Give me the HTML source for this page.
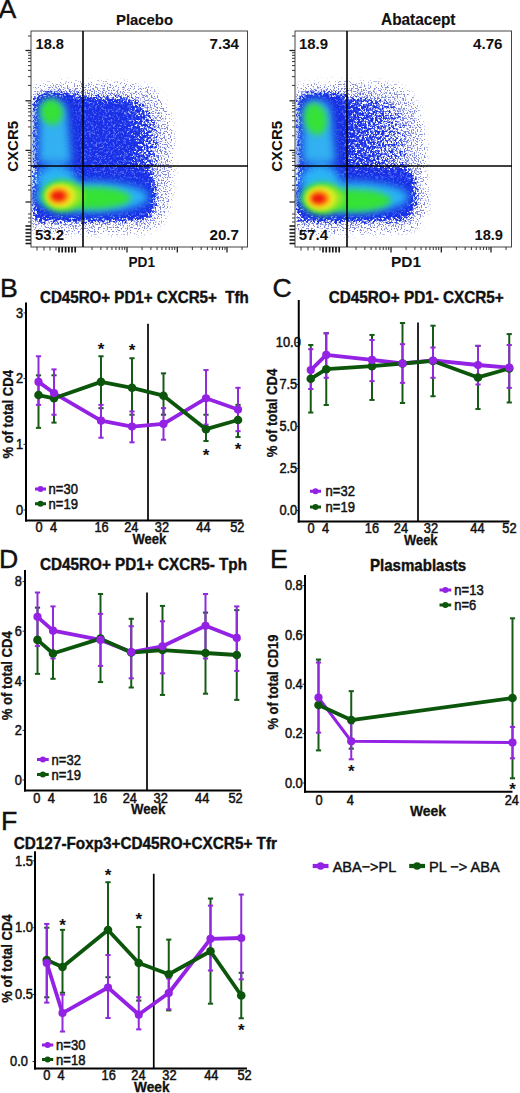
<!DOCTYPE html><html><head><meta charset="utf-8"><style>html,body{margin:0;padding:0;background:#fff;}svg{display:block}</style></head><body>
<svg width="520" height="1093" viewBox="0 0 520 1093" font-family="Liberation Sans, sans-serif">
<rect width="520" height="1093" fill="#fff"/>
<defs>
<filter id="bl2" x="-30%" y="-30%" width="160%" height="160%"><feGaussianBlur stdDeviation="2"/></filter>
<filter id="bl3" x="-30%" y="-30%" width="160%" height="160%"><feGaussianBlur stdDeviation="3"/></filter>
<filter id="bl4" x="-30%" y="-30%" width="160%" height="160%"><feGaussianBlur stdDeviation="4"/></filter>
<filter id="spk" x="0" y="0" width="520" height="300" filterUnits="userSpaceOnUse" color-interpolation-filters="sRGB">
 <feGaussianBlur in="SourceAlpha" stdDeviation="3.5" result="b"/>
 <feTurbulence type="fractalNoise" baseFrequency="0.45" numOctaves="2" seed="7" result="n"/>
 <feColorMatrix in="n" type="matrix" values="0 0 0 0 0  0 0 0 0 0  0 0 0 0 0  3 0 0 0 -1" result="na"/>
 <feComposite in="b" in2="na" operator="arithmetic" k1="0" k2="1.3" k3="1" k4="-1.05" result="s"/>
 <feComponentTransfer in="s" result="t"><feFuncA type="linear" slope="3" intercept="0"/></feComponentTransfer>
 <feFlood flood-color="#1a30e6"/>
 <feComposite in2="t" operator="in" result="A"/>
 <feTurbulence type="fractalNoise" baseFrequency="0.38" numOctaves="2" seed="21" result="n2"/>
 <feColorMatrix in="n2" type="matrix" values="0 0 0 0 0  0 0 0 0 0  0 0 0 0 0  0 4 0 0 -2.1" result="m2"/>
 <feFlood flood-color="#4a6cff"/>
 <feComposite in2="m2" operator="in"/>
 <feComposite in2="t" operator="in" result="B"/>
 <feMerge><feMergeNode in="A"/><feMergeNode in="B"/></feMerge>
</filter>
<filter id="spk2" x="0" y="0" width="520" height="300" filterUnits="userSpaceOnUse" color-interpolation-filters="sRGB">
 <feGaussianBlur in="SourceAlpha" stdDeviation="5" result="b"/>
 <feTurbulence type="fractalNoise" baseFrequency="0.7" numOctaves="1" seed="3" result="n"/>
 <feColorMatrix in="n" type="matrix" values="0 0 0 0 0  0 0 0 0 0  0 0 0 0 0  3 0 0 0 -1" result="na"/>
 <feComposite in="b" in2="na" operator="arithmetic" k1="0" k2="0.5" k3="1" k4="-1.02" result="s"/>
 <feComponentTransfer in="s" result="t"><feFuncA type="linear" slope="4" intercept="0"/></feComponentTransfer>
 <feFlood flood-color="#8088d8"/>
 <feComposite in2="t" operator="in"/>
</filter>
<linearGradient id="urL" x1="0" x2="1" y1="0" y2="0"><stop offset="0" stop-color="#000" stop-opacity="1"/><stop offset="0.6" stop-color="#000" stop-opacity="0.95"/><stop offset="1" stop-color="#000" stop-opacity="0.42"/></linearGradient>
<linearGradient id="urR" x1="0" x2="1" y1="0" y2="0"><stop offset="0" stop-color="#000" stop-opacity="0.8"/><stop offset="0.5" stop-color="#000" stop-opacity="0.55"/><stop offset="1" stop-color="#000" stop-opacity="0.25"/></linearGradient>
</defs>
<clipPath id="clip31"><rect x="31.5" y="31.5" width="216" height="215.5"/></clipPath>
<g clip-path="url(#clip31)">
<g filter="url(#spk2)" fill="#000"><path d="M30,88 C40,82 120,80 150,88 C168,96 176,140 172,170 C172,205 168,228 140,232 L30,234 Z"/></g>
<g filter="url(#spk)" fill="#000"><path d="M34,98 C40,92 70,91 84,96 L84,170 L36,170 Z"/><path d="M83,97 L118,97 C140,98 156,112 158,135 L158,168 L83,168 Z" fill="url(#urL)"/><path d="M34,168 L148,168 C158,175 159,210 148,219 C120,222 60,222 34,221 Z"/></g>
<g filter="url(#bl3)" fill="#1024d8" fill-opacity="0.7"><path d="M36,108 C36,90 70,90 74,108 L80,168 L34,168 Z"/><ellipse cx="90.0" cy="197" rx="62.0" ry="20"/></g>
<g filter="url(#bl4)" fill="#2ab4f6"><path d="M39,110 C39,96 65,96 67,110 L72,163 L38,163 Z" fill="#30b0f2"/><ellipse cx="92.0" cy="197" rx="57.0" ry="15.5"/><ellipse cx="56" cy="180" rx="20" ry="15"/></g>
<g filter="url(#bl3)" fill="#34e234"><ellipse cx="51.5" cy="112" rx="11" ry="13" transform="rotate(-12 51.5 112)"/><ellipse cx="90.0" cy="198" rx="41.0" ry="11"/><ellipse cx="62.0" cy="196" rx="21" ry="16"/></g>
<g filter="url(#bl3)"><ellipse cx="65.3" cy="196" rx="18" ry="12" fill="#9ee826"/></g>
<g filter="url(#bl2)"><ellipse cx="60.0" cy="196" rx="15" ry="12" fill="#e6ee22"/><ellipse cx="59.0" cy="196" rx="11" ry="8.5" fill="#ff9410"/><ellipse cx="58.3" cy="196" rx="8" ry="6" fill="#f01c10"/></g>
</g>
<rect x="31" y="31" width="216.5" height="216" fill="none" stroke="#444" stroke-width="1"/>
<line x1="83.00" y1="31.00" x2="83.00" y2="247.00" stroke="#000" stroke-width="1.6" />
<line x1="31.00" y1="166.00" x2="248.00" y2="166.00" stroke="#000" stroke-width="1.6" />
<line x1="25.50" y1="50.50" x2="31.00" y2="50.50" stroke="#222" stroke-width="1.3" />
<line x1="25.50" y1="100.80" x2="31.00" y2="100.80" stroke="#222" stroke-width="1.3" />
<line x1="25.50" y1="150.40" x2="31.00" y2="150.40" stroke="#222" stroke-width="1.3" />
<line x1="25.50" y1="202.00" x2="31.00" y2="202.00" stroke="#222" stroke-width="1.3" />
<line x1="28.00" y1="85.45" x2="31.00" y2="85.45" stroke="#222" stroke-width="0.9" />
<line x1="28.00" y1="76.64" x2="31.00" y2="76.64" stroke="#222" stroke-width="0.9" />
<line x1="28.00" y1="70.40" x2="31.00" y2="70.40" stroke="#222" stroke-width="0.9" />
<line x1="28.00" y1="65.55" x2="31.00" y2="65.55" stroke="#222" stroke-width="0.9" />
<line x1="28.00" y1="61.59" x2="31.00" y2="61.59" stroke="#222" stroke-width="0.9" />
<line x1="28.00" y1="58.25" x2="31.00" y2="58.25" stroke="#222" stroke-width="0.9" />
<line x1="28.00" y1="55.35" x2="31.00" y2="55.35" stroke="#222" stroke-width="0.9" />
<line x1="28.00" y1="52.79" x2="31.00" y2="52.79" stroke="#222" stroke-width="0.9" />
<line x1="28.00" y1="135.75" x2="31.00" y2="135.75" stroke="#222" stroke-width="0.9" />
<line x1="28.00" y1="126.94" x2="31.00" y2="126.94" stroke="#222" stroke-width="0.9" />
<line x1="28.00" y1="120.70" x2="31.00" y2="120.70" stroke="#222" stroke-width="0.9" />
<line x1="28.00" y1="115.85" x2="31.00" y2="115.85" stroke="#222" stroke-width="0.9" />
<line x1="28.00" y1="111.89" x2="31.00" y2="111.89" stroke="#222" stroke-width="0.9" />
<line x1="28.00" y1="108.55" x2="31.00" y2="108.55" stroke="#222" stroke-width="0.9" />
<line x1="28.00" y1="105.65" x2="31.00" y2="105.65" stroke="#222" stroke-width="0.9" />
<line x1="28.00" y1="103.09" x2="31.00" y2="103.09" stroke="#222" stroke-width="0.9" />
<line x1="28.00" y1="185.35" x2="31.00" y2="185.35" stroke="#222" stroke-width="0.9" />
<line x1="28.00" y1="176.54" x2="31.00" y2="176.54" stroke="#222" stroke-width="0.9" />
<line x1="28.00" y1="170.30" x2="31.00" y2="170.30" stroke="#222" stroke-width="0.9" />
<line x1="28.00" y1="165.45" x2="31.00" y2="165.45" stroke="#222" stroke-width="0.9" />
<line x1="28.00" y1="161.49" x2="31.00" y2="161.49" stroke="#222" stroke-width="0.9" />
<line x1="28.00" y1="158.15" x2="31.00" y2="158.15" stroke="#222" stroke-width="0.9" />
<line x1="28.00" y1="155.25" x2="31.00" y2="155.25" stroke="#222" stroke-width="0.9" />
<line x1="28.00" y1="152.69" x2="31.00" y2="152.69" stroke="#222" stroke-width="0.9" />
<line x1="28.00" y1="190.00" x2="31.00" y2="190.00" stroke="#222" stroke-width="0.9" />
<line x1="28.00" y1="214.00" x2="31.00" y2="214.00" stroke="#222" stroke-width="0.9" />
<line x1="28.00" y1="218.00" x2="31.00" y2="218.00" stroke="#222" stroke-width="0.9" />
<line x1="28.00" y1="222.00" x2="31.00" y2="222.00" stroke="#222" stroke-width="0.9" />
<line x1="25.50" y1="226.00" x2="31.00" y2="226.00" stroke="#1a1a1a" stroke-width="1.6" />
<line x1="25.50" y1="229.50" x2="31.00" y2="229.50" stroke="#1a1a1a" stroke-width="1.6" />
<line x1="25.50" y1="233.00" x2="31.00" y2="233.00" stroke="#1a1a1a" stroke-width="1.6" />
<line x1="25.50" y1="236.50" x2="31.00" y2="236.50" stroke="#1a1a1a" stroke-width="1.6" />
<line x1="25.50" y1="240.00" x2="31.00" y2="240.00" stroke="#1a1a1a" stroke-width="1.6" />
<line x1="25.50" y1="243.50" x2="31.00" y2="243.50" stroke="#1a1a1a" stroke-width="1.6" />
<line x1="28.00" y1="36.00" x2="31.00" y2="36.00" stroke="#222" stroke-width="0.9" />
<line x1="127.00" y1="247.00" x2="127.00" y2="252.50" stroke="#222" stroke-width="1.3" />
<line x1="177.30" y1="247.00" x2="177.30" y2="252.50" stroke="#222" stroke-width="1.3" />
<line x1="227.00" y1="247.00" x2="227.00" y2="252.50" stroke="#222" stroke-width="1.3" />
<line x1="92.05" y1="247.00" x2="92.05" y2="250.00" stroke="#222" stroke-width="0.9" />
<line x1="100.86" y1="247.00" x2="100.86" y2="250.00" stroke="#222" stroke-width="0.9" />
<line x1="107.10" y1="247.00" x2="107.10" y2="250.00" stroke="#222" stroke-width="0.9" />
<line x1="111.95" y1="247.00" x2="111.95" y2="250.00" stroke="#222" stroke-width="0.9" />
<line x1="115.91" y1="247.00" x2="115.91" y2="250.00" stroke="#222" stroke-width="0.9" />
<line x1="119.25" y1="247.00" x2="119.25" y2="250.00" stroke="#222" stroke-width="0.9" />
<line x1="122.15" y1="247.00" x2="122.15" y2="250.00" stroke="#222" stroke-width="0.9" />
<line x1="124.71" y1="247.00" x2="124.71" y2="250.00" stroke="#222" stroke-width="0.9" />
<line x1="142.05" y1="247.00" x2="142.05" y2="250.00" stroke="#222" stroke-width="0.9" />
<line x1="150.86" y1="247.00" x2="150.86" y2="250.00" stroke="#222" stroke-width="0.9" />
<line x1="157.10" y1="247.00" x2="157.10" y2="250.00" stroke="#222" stroke-width="0.9" />
<line x1="161.95" y1="247.00" x2="161.95" y2="250.00" stroke="#222" stroke-width="0.9" />
<line x1="165.91" y1="247.00" x2="165.91" y2="250.00" stroke="#222" stroke-width="0.9" />
<line x1="169.25" y1="247.00" x2="169.25" y2="250.00" stroke="#222" stroke-width="0.9" />
<line x1="172.15" y1="247.00" x2="172.15" y2="250.00" stroke="#222" stroke-width="0.9" />
<line x1="174.71" y1="247.00" x2="174.71" y2="250.00" stroke="#222" stroke-width="0.9" />
<line x1="192.35" y1="247.00" x2="192.35" y2="250.00" stroke="#222" stroke-width="0.9" />
<line x1="201.16" y1="247.00" x2="201.16" y2="250.00" stroke="#222" stroke-width="0.9" />
<line x1="207.40" y1="247.00" x2="207.40" y2="250.00" stroke="#222" stroke-width="0.9" />
<line x1="212.25" y1="247.00" x2="212.25" y2="250.00" stroke="#222" stroke-width="0.9" />
<line x1="216.21" y1="247.00" x2="216.21" y2="250.00" stroke="#222" stroke-width="0.9" />
<line x1="219.55" y1="247.00" x2="219.55" y2="250.00" stroke="#222" stroke-width="0.9" />
<line x1="222.45" y1="247.00" x2="222.45" y2="250.00" stroke="#222" stroke-width="0.9" />
<line x1="225.01" y1="247.00" x2="225.01" y2="250.00" stroke="#222" stroke-width="0.9" />
<line x1="242.05" y1="247.00" x2="242.05" y2="250.00" stroke="#222" stroke-width="0.9" />
<line x1="37.00" y1="247.00" x2="37.00" y2="250.50" stroke="#222" stroke-width="0.9" />
<line x1="44.00" y1="247.00" x2="44.00" y2="250.50" stroke="#222" stroke-width="0.9" />
<line x1="50.00" y1="247.00" x2="50.00" y2="250.50" stroke="#222" stroke-width="0.9" />
<line x1="56.00" y1="247.00" x2="56.00" y2="250.50" stroke="#222" stroke-width="0.9" />
<line x1="59.00" y1="247.00" x2="59.00" y2="252.50" stroke="#1a1a1a" stroke-width="1.7" />
<line x1="62.20" y1="247.00" x2="62.20" y2="252.50" stroke="#1a1a1a" stroke-width="1.7" />
<line x1="65.60" y1="247.00" x2="65.60" y2="252.50" stroke="#1a1a1a" stroke-width="1.7" />
<line x1="68.80" y1="247.00" x2="68.80" y2="252.50" stroke="#1a1a1a" stroke-width="1.7" />
<line x1="72.00" y1="247.00" x2="72.00" y2="252.50" stroke="#1a1a1a" stroke-width="1.7" />
<line x1="75.20" y1="247.00" x2="75.20" y2="252.50" stroke="#1a1a1a" stroke-width="1.7" />
<clipPath id="clip295"><rect x="295.5" y="31.5" width="216" height="215.5"/></clipPath>
<g clip-path="url(#clip295)">
<g filter="url(#spk2)" fill="#000"><path d="M294,88 C304,82 384,80 402,88 C420,96 428,140 424,170 C432,205 428,228 404,232 L294,234 Z"/></g>
<g filter="url(#spk)" fill="#000"><path d="M298,98 C304,92 334,91 348,96 L348,170 L300,170 Z"/><path d="M347,97 L370,97 C392,98 408,112 410,135 L410,168 L347,168 Z" fill="url(#urR)"/><path d="M298,168 L408,168 C418,175 419,210 408,219 C384,222 324,222 298,221 Z"/></g>
<g filter="url(#bl3)" fill="#1024d8" fill-opacity="0.7"><path d="M300,108 C300,90 334,90 338,108 L344,168 L298,168 Z"/><ellipse cx="352.0" cy="197" rx="60.0" ry="20"/></g>
<g filter="url(#bl4)" fill="#2ab4f6"><path d="M303,110 C303,96 329,96 331,110 L336,163 L302,163 Z" fill="#30b0f2"/><ellipse cx="354.0" cy="197" rx="55.0" ry="15.5"/><ellipse cx="320" cy="180" rx="20" ry="15"/></g>
<g filter="url(#bl3)" fill="#34e234"><ellipse cx="315.5" cy="119" rx="11" ry="16" transform="rotate(-12 315.5 119)"/><ellipse cx="352.0" cy="200.5" rx="39.0" ry="11"/><ellipse cx="322.2" cy="198.5" rx="21" ry="16"/></g>
<g filter="url(#bl3)"><ellipse cx="325.5" cy="198.5" rx="18" ry="12" fill="#9ee826"/></g>
<g filter="url(#bl2)"><ellipse cx="320.2" cy="198.5" rx="15" ry="12" fill="#e6ee22"/><ellipse cx="319.2" cy="198.5" rx="11" ry="8.5" fill="#ff9410"/><ellipse cx="318.5" cy="198.5" rx="8" ry="6" fill="#f01c10"/></g>
</g>
<rect x="295" y="31" width="216.5" height="216" fill="none" stroke="#444" stroke-width="1"/>
<line x1="347.00" y1="31.00" x2="347.00" y2="247.00" stroke="#000" stroke-width="1.6" />
<line x1="295.00" y1="166.00" x2="512.00" y2="166.00" stroke="#000" stroke-width="1.6" />
<line x1="289.50" y1="50.50" x2="295.00" y2="50.50" stroke="#222" stroke-width="1.3" />
<line x1="289.50" y1="100.80" x2="295.00" y2="100.80" stroke="#222" stroke-width="1.3" />
<line x1="289.50" y1="150.40" x2="295.00" y2="150.40" stroke="#222" stroke-width="1.3" />
<line x1="289.50" y1="202.00" x2="295.00" y2="202.00" stroke="#222" stroke-width="1.3" />
<line x1="292.00" y1="85.45" x2="295.00" y2="85.45" stroke="#222" stroke-width="0.9" />
<line x1="292.00" y1="76.64" x2="295.00" y2="76.64" stroke="#222" stroke-width="0.9" />
<line x1="292.00" y1="70.40" x2="295.00" y2="70.40" stroke="#222" stroke-width="0.9" />
<line x1="292.00" y1="65.55" x2="295.00" y2="65.55" stroke="#222" stroke-width="0.9" />
<line x1="292.00" y1="61.59" x2="295.00" y2="61.59" stroke="#222" stroke-width="0.9" />
<line x1="292.00" y1="58.25" x2="295.00" y2="58.25" stroke="#222" stroke-width="0.9" />
<line x1="292.00" y1="55.35" x2="295.00" y2="55.35" stroke="#222" stroke-width="0.9" />
<line x1="292.00" y1="52.79" x2="295.00" y2="52.79" stroke="#222" stroke-width="0.9" />
<line x1="292.00" y1="135.75" x2="295.00" y2="135.75" stroke="#222" stroke-width="0.9" />
<line x1="292.00" y1="126.94" x2="295.00" y2="126.94" stroke="#222" stroke-width="0.9" />
<line x1="292.00" y1="120.70" x2="295.00" y2="120.70" stroke="#222" stroke-width="0.9" />
<line x1="292.00" y1="115.85" x2="295.00" y2="115.85" stroke="#222" stroke-width="0.9" />
<line x1="292.00" y1="111.89" x2="295.00" y2="111.89" stroke="#222" stroke-width="0.9" />
<line x1="292.00" y1="108.55" x2="295.00" y2="108.55" stroke="#222" stroke-width="0.9" />
<line x1="292.00" y1="105.65" x2="295.00" y2="105.65" stroke="#222" stroke-width="0.9" />
<line x1="292.00" y1="103.09" x2="295.00" y2="103.09" stroke="#222" stroke-width="0.9" />
<line x1="292.00" y1="185.35" x2="295.00" y2="185.35" stroke="#222" stroke-width="0.9" />
<line x1="292.00" y1="176.54" x2="295.00" y2="176.54" stroke="#222" stroke-width="0.9" />
<line x1="292.00" y1="170.30" x2="295.00" y2="170.30" stroke="#222" stroke-width="0.9" />
<line x1="292.00" y1="165.45" x2="295.00" y2="165.45" stroke="#222" stroke-width="0.9" />
<line x1="292.00" y1="161.49" x2="295.00" y2="161.49" stroke="#222" stroke-width="0.9" />
<line x1="292.00" y1="158.15" x2="295.00" y2="158.15" stroke="#222" stroke-width="0.9" />
<line x1="292.00" y1="155.25" x2="295.00" y2="155.25" stroke="#222" stroke-width="0.9" />
<line x1="292.00" y1="152.69" x2="295.00" y2="152.69" stroke="#222" stroke-width="0.9" />
<line x1="292.00" y1="190.00" x2="295.00" y2="190.00" stroke="#222" stroke-width="0.9" />
<line x1="292.00" y1="214.00" x2="295.00" y2="214.00" stroke="#222" stroke-width="0.9" />
<line x1="292.00" y1="218.00" x2="295.00" y2="218.00" stroke="#222" stroke-width="0.9" />
<line x1="292.00" y1="222.00" x2="295.00" y2="222.00" stroke="#222" stroke-width="0.9" />
<line x1="289.50" y1="226.00" x2="295.00" y2="226.00" stroke="#1a1a1a" stroke-width="1.6" />
<line x1="289.50" y1="229.50" x2="295.00" y2="229.50" stroke="#1a1a1a" stroke-width="1.6" />
<line x1="289.50" y1="233.00" x2="295.00" y2="233.00" stroke="#1a1a1a" stroke-width="1.6" />
<line x1="289.50" y1="236.50" x2="295.00" y2="236.50" stroke="#1a1a1a" stroke-width="1.6" />
<line x1="289.50" y1="240.00" x2="295.00" y2="240.00" stroke="#1a1a1a" stroke-width="1.6" />
<line x1="289.50" y1="243.50" x2="295.00" y2="243.50" stroke="#1a1a1a" stroke-width="1.6" />
<line x1="292.00" y1="36.00" x2="295.00" y2="36.00" stroke="#222" stroke-width="0.9" />
<line x1="391.00" y1="247.00" x2="391.00" y2="252.50" stroke="#222" stroke-width="1.3" />
<line x1="441.30" y1="247.00" x2="441.30" y2="252.50" stroke="#222" stroke-width="1.3" />
<line x1="491.00" y1="247.00" x2="491.00" y2="252.50" stroke="#222" stroke-width="1.3" />
<line x1="356.05" y1="247.00" x2="356.05" y2="250.00" stroke="#222" stroke-width="0.9" />
<line x1="364.86" y1="247.00" x2="364.86" y2="250.00" stroke="#222" stroke-width="0.9" />
<line x1="371.10" y1="247.00" x2="371.10" y2="250.00" stroke="#222" stroke-width="0.9" />
<line x1="375.95" y1="247.00" x2="375.95" y2="250.00" stroke="#222" stroke-width="0.9" />
<line x1="379.91" y1="247.00" x2="379.91" y2="250.00" stroke="#222" stroke-width="0.9" />
<line x1="383.25" y1="247.00" x2="383.25" y2="250.00" stroke="#222" stroke-width="0.9" />
<line x1="386.15" y1="247.00" x2="386.15" y2="250.00" stroke="#222" stroke-width="0.9" />
<line x1="388.71" y1="247.00" x2="388.71" y2="250.00" stroke="#222" stroke-width="0.9" />
<line x1="406.05" y1="247.00" x2="406.05" y2="250.00" stroke="#222" stroke-width="0.9" />
<line x1="414.86" y1="247.00" x2="414.86" y2="250.00" stroke="#222" stroke-width="0.9" />
<line x1="421.10" y1="247.00" x2="421.10" y2="250.00" stroke="#222" stroke-width="0.9" />
<line x1="425.95" y1="247.00" x2="425.95" y2="250.00" stroke="#222" stroke-width="0.9" />
<line x1="429.91" y1="247.00" x2="429.91" y2="250.00" stroke="#222" stroke-width="0.9" />
<line x1="433.25" y1="247.00" x2="433.25" y2="250.00" stroke="#222" stroke-width="0.9" />
<line x1="436.15" y1="247.00" x2="436.15" y2="250.00" stroke="#222" stroke-width="0.9" />
<line x1="438.71" y1="247.00" x2="438.71" y2="250.00" stroke="#222" stroke-width="0.9" />
<line x1="456.35" y1="247.00" x2="456.35" y2="250.00" stroke="#222" stroke-width="0.9" />
<line x1="465.16" y1="247.00" x2="465.16" y2="250.00" stroke="#222" stroke-width="0.9" />
<line x1="471.40" y1="247.00" x2="471.40" y2="250.00" stroke="#222" stroke-width="0.9" />
<line x1="476.25" y1="247.00" x2="476.25" y2="250.00" stroke="#222" stroke-width="0.9" />
<line x1="480.21" y1="247.00" x2="480.21" y2="250.00" stroke="#222" stroke-width="0.9" />
<line x1="483.55" y1="247.00" x2="483.55" y2="250.00" stroke="#222" stroke-width="0.9" />
<line x1="486.45" y1="247.00" x2="486.45" y2="250.00" stroke="#222" stroke-width="0.9" />
<line x1="489.01" y1="247.00" x2="489.01" y2="250.00" stroke="#222" stroke-width="0.9" />
<line x1="506.05" y1="247.00" x2="506.05" y2="250.00" stroke="#222" stroke-width="0.9" />
<line x1="301.00" y1="247.00" x2="301.00" y2="250.50" stroke="#222" stroke-width="0.9" />
<line x1="308.00" y1="247.00" x2="308.00" y2="250.50" stroke="#222" stroke-width="0.9" />
<line x1="314.00" y1="247.00" x2="314.00" y2="250.50" stroke="#222" stroke-width="0.9" />
<line x1="320.00" y1="247.00" x2="320.00" y2="250.50" stroke="#222" stroke-width="0.9" />
<line x1="323.00" y1="247.00" x2="323.00" y2="252.50" stroke="#1a1a1a" stroke-width="1.7" />
<line x1="326.20" y1="247.00" x2="326.20" y2="252.50" stroke="#1a1a1a" stroke-width="1.7" />
<line x1="329.60" y1="247.00" x2="329.60" y2="252.50" stroke="#1a1a1a" stroke-width="1.7" />
<line x1="332.80" y1="247.00" x2="332.80" y2="252.50" stroke="#1a1a1a" stroke-width="1.7" />
<line x1="336.00" y1="247.00" x2="336.00" y2="252.50" stroke="#1a1a1a" stroke-width="1.7" />
<line x1="339.20" y1="247.00" x2="339.20" y2="252.50" stroke="#1a1a1a" stroke-width="1.7" />
<text x="-1.50" y="18.25" font-size="26.7" font-weight="normal" text-anchor="start" fill="#111" stroke="#111" stroke-width="0.4" >A</text>
<text x="116.00" y="25.00" font-size="15.40" font-weight="bold" text-anchor="start" fill="#111" stroke="#111" stroke-width="0.15" textLength="57.00" lengthAdjust="spacingAndGlyphs" >Placebo</text>
<text x="381.00" y="25.00" font-size="15.60" font-weight="bold" text-anchor="start" fill="#111" stroke="#111" stroke-width="0.15" textLength="74.50" lengthAdjust="spacingAndGlyphs" >Abatacept</text>
<text x="35.50" y="49.00" font-size="15.20" font-weight="bold" text-anchor="start" fill="#111" textLength="28.50" lengthAdjust="spacingAndGlyphs" >18.8</text>
<text x="209.50" y="48.70" font-size="15.20" font-weight="bold" text-anchor="start" fill="#111" textLength="29.50" lengthAdjust="spacingAndGlyphs" >7.34</text>
<text x="35.00" y="240.00" font-size="15.20" font-weight="bold" text-anchor="start" fill="#111" textLength="29.00" lengthAdjust="spacingAndGlyphs" >53.2</text>
<text x="209.50" y="240.00" font-size="15.20" font-weight="bold" text-anchor="start" fill="#111" textLength="29.50" lengthAdjust="spacingAndGlyphs" >20.7</text>
<text x="299.00" y="49.00" font-size="15.20" font-weight="bold" text-anchor="start" fill="#111" textLength="29.00" lengthAdjust="spacingAndGlyphs" >18.9</text>
<text x="473.00" y="48.70" font-size="15.20" font-weight="bold" text-anchor="start" fill="#111" textLength="29.50" lengthAdjust="spacingAndGlyphs" >4.76</text>
<text x="298.75" y="240.00" font-size="15.20" font-weight="bold" text-anchor="start" fill="#111" textLength="29.25" lengthAdjust="spacingAndGlyphs" >57.4</text>
<text x="474.50" y="240.00" font-size="15.20" font-weight="bold" text-anchor="start" fill="#111" textLength="28.50" lengthAdjust="spacingAndGlyphs" >18.9</text>
<text x="128.50" y="267.00" font-size="14.60" font-weight="bold" text-anchor="start" fill="#111" textLength="26.50" lengthAdjust="spacingAndGlyphs" >PD1</text>
<text x="391.00" y="267.00" font-size="15.20" font-weight="bold" text-anchor="start" fill="#111" textLength="30.00" lengthAdjust="spacingAndGlyphs" >PD1</text>
<text transform="translate(17.50,171.7) rotate(-90)" font-size="15.2" font-weight="bold" fill="#111" textLength="50.7" lengthAdjust="spacingAndGlyphs">CXCR5</text>
<text transform="translate(281.50,171.7) rotate(-90)" font-size="15.2" font-weight="bold" fill="#111" textLength="50.7" lengthAdjust="spacingAndGlyphs">CXCR5</text>
<text x="19.60" y="514.70" font-size="13.8" font-weight="normal" text-anchor="middle" fill="#111" stroke="#111" stroke-width="0.5" textLength="7.14" lengthAdjust="spacingAndGlyphs" >0</text>
<line x1="23.50" y1="510.00" x2="26.00" y2="510.00" stroke="#333" stroke-width="1" />
<text x="19.60" y="449.00" font-size="13.8" font-weight="normal" text-anchor="middle" fill="#111" stroke="#111" stroke-width="0.5" textLength="7.14" lengthAdjust="spacingAndGlyphs" >1</text>
<line x1="23.50" y1="444.30" x2="26.00" y2="444.30" stroke="#333" stroke-width="1" />
<text x="19.60" y="383.30" font-size="13.8" font-weight="normal" text-anchor="middle" fill="#111" stroke="#111" stroke-width="0.5" textLength="7.14" lengthAdjust="spacingAndGlyphs" >2</text>
<line x1="23.50" y1="378.60" x2="26.00" y2="378.60" stroke="#333" stroke-width="1" />
<text x="19.60" y="317.60" font-size="13.8" font-weight="normal" text-anchor="middle" fill="#111" stroke="#111" stroke-width="0.5" textLength="7.14" lengthAdjust="spacingAndGlyphs" >3</text>
<line x1="23.50" y1="312.90" x2="26.00" y2="312.90" stroke="#333" stroke-width="1" />
<text x="39.00" y="531.80" font-size="13.8" font-weight="normal" text-anchor="middle" fill="#111" stroke="#111" stroke-width="0.5" textLength="7.14" lengthAdjust="spacingAndGlyphs" >0</text>
<text x="53.50" y="531.80" font-size="13.8" font-weight="normal" text-anchor="middle" fill="#111" stroke="#111" stroke-width="0.5" textLength="7.14" lengthAdjust="spacingAndGlyphs" >4</text>
<text x="101.60" y="531.80" font-size="13.8" font-weight="normal" text-anchor="middle" fill="#111" stroke="#111" stroke-width="0.5" textLength="14.27" lengthAdjust="spacingAndGlyphs" >16</text>
<text x="131.30" y="531.80" font-size="13.8" font-weight="normal" text-anchor="middle" fill="#111" stroke="#111" stroke-width="0.5" textLength="14.27" lengthAdjust="spacingAndGlyphs" >24</text>
<text x="162.00" y="531.80" font-size="13.8" font-weight="normal" text-anchor="middle" fill="#111" stroke="#111" stroke-width="0.5" textLength="14.27" lengthAdjust="spacingAndGlyphs" >32</text>
<text x="203.50" y="531.80" font-size="13.8" font-weight="normal" text-anchor="middle" fill="#111" stroke="#111" stroke-width="0.5" textLength="14.27" lengthAdjust="spacingAndGlyphs" >44</text>
<text x="237.30" y="531.80" font-size="13.8" font-weight="normal" text-anchor="middle" fill="#111" stroke="#111" stroke-width="0.5" textLength="14.27" lengthAdjust="spacingAndGlyphs" >52</text>
<line x1="26.00" y1="302.50" x2="26.00" y2="521.50" stroke="#000" stroke-width="2" />
<line x1="25.00" y1="520.50" x2="242.50" y2="520.50" stroke="#000" stroke-width="2" />
<text x="132.50" y="544.20" font-size="14.00" font-weight="bold" text-anchor="start" fill="#111" stroke="#111" stroke-width="0.3" textLength="33.75" lengthAdjust="spacingAndGlyphs" >Week</text>
<line x1="148.00" y1="323.75" x2="148.00" y2="520.50" stroke="#000" stroke-width="1.7" />
<line x1="38.50" y1="427.88" x2="38.50" y2="375.31" stroke="#175a17" stroke-width="2.0" />
<line x1="35.90" y1="427.88" x2="41.10" y2="427.88" stroke="#175a17" stroke-width="2" />
<line x1="35.90" y1="375.31" x2="41.10" y2="375.31" stroke="#175a17" stroke-width="2" />
<line x1="54.00" y1="422.62" x2="54.00" y2="375.31" stroke="#175a17" stroke-width="2.0" />
<line x1="51.40" y1="422.62" x2="56.60" y2="422.62" stroke="#175a17" stroke-width="2" />
<line x1="51.40" y1="375.31" x2="56.60" y2="375.31" stroke="#175a17" stroke-width="2" />
<line x1="101.00" y1="408.16" x2="101.00" y2="356.26" stroke="#175a17" stroke-width="2.0" />
<line x1="98.40" y1="408.16" x2="103.60" y2="408.16" stroke="#175a17" stroke-width="2" />
<line x1="98.40" y1="356.26" x2="103.60" y2="356.26" stroke="#175a17" stroke-width="2" />
<line x1="132.00" y1="414.74" x2="132.00" y2="358.23" stroke="#175a17" stroke-width="2.0" />
<line x1="129.40" y1="414.74" x2="134.60" y2="414.74" stroke="#175a17" stroke-width="2" />
<line x1="129.40" y1="358.23" x2="134.60" y2="358.23" stroke="#175a17" stroke-width="2" />
<line x1="163.50" y1="414.74" x2="163.50" y2="373.34" stroke="#175a17" stroke-width="2.0" />
<line x1="160.90" y1="414.74" x2="166.10" y2="414.74" stroke="#175a17" stroke-width="2" />
<line x1="160.90" y1="373.34" x2="166.10" y2="373.34" stroke="#175a17" stroke-width="2" />
<line x1="206.00" y1="441.01" x2="206.00" y2="414.74" stroke="#175a17" stroke-width="2.0" />
<line x1="203.40" y1="441.01" x2="208.60" y2="441.01" stroke="#175a17" stroke-width="2" />
<line x1="203.40" y1="414.74" x2="208.60" y2="414.74" stroke="#175a17" stroke-width="2" />
<line x1="238.00" y1="437.07" x2="238.00" y2="404.88" stroke="#175a17" stroke-width="2.0" />
<line x1="235.40" y1="437.07" x2="240.60" y2="437.07" stroke="#175a17" stroke-width="2" />
<line x1="235.40" y1="404.88" x2="240.60" y2="404.88" stroke="#175a17" stroke-width="2" />
<line x1="38.50" y1="404.88" x2="38.50" y2="356.26" stroke="#902ada" stroke-width="2.0" />
<line x1="35.90" y1="404.88" x2="41.10" y2="404.88" stroke="#902ada" stroke-width="2" />
<line x1="35.90" y1="356.26" x2="41.10" y2="356.26" stroke="#902ada" stroke-width="2" />
<line x1="54.00" y1="414.74" x2="54.00" y2="369.40" stroke="#902ada" stroke-width="2.0" />
<line x1="51.40" y1="414.74" x2="56.60" y2="414.74" stroke="#902ada" stroke-width="2" />
<line x1="51.40" y1="369.40" x2="56.60" y2="369.40" stroke="#902ada" stroke-width="2" />
<line x1="101.00" y1="437.73" x2="101.00" y2="404.88" stroke="#902ada" stroke-width="2.0" />
<line x1="98.40" y1="437.73" x2="103.60" y2="437.73" stroke="#902ada" stroke-width="2" />
<line x1="98.40" y1="404.88" x2="103.60" y2="404.88" stroke="#902ada" stroke-width="2" />
<line x1="132.00" y1="442.33" x2="132.00" y2="411.45" stroke="#902ada" stroke-width="2.0" />
<line x1="129.40" y1="442.33" x2="134.60" y2="442.33" stroke="#902ada" stroke-width="2" />
<line x1="129.40" y1="411.45" x2="134.60" y2="411.45" stroke="#902ada" stroke-width="2" />
<line x1="163.50" y1="439.70" x2="163.50" y2="408.16" stroke="#902ada" stroke-width="2.0" />
<line x1="160.90" y1="439.70" x2="166.10" y2="439.70" stroke="#902ada" stroke-width="2" />
<line x1="160.90" y1="408.16" x2="166.10" y2="408.16" stroke="#902ada" stroke-width="2" />
<line x1="206.00" y1="424.59" x2="206.00" y2="370.06" stroke="#902ada" stroke-width="2.0" />
<line x1="203.40" y1="424.59" x2="208.60" y2="424.59" stroke="#902ada" stroke-width="2" />
<line x1="203.40" y1="370.06" x2="208.60" y2="370.06" stroke="#902ada" stroke-width="2" />
<line x1="238.00" y1="431.16" x2="238.00" y2="387.80" stroke="#902ada" stroke-width="2.0" />
<line x1="235.40" y1="431.16" x2="240.60" y2="431.16" stroke="#902ada" stroke-width="2" />
<line x1="235.40" y1="387.80" x2="240.60" y2="387.80" stroke="#902ada" stroke-width="2" />
<polyline points="38.50,381.88 54.00,393.05 101.00,420.65 132.00,426.56 163.50,423.93 206.00,398.31 238.00,409.48" fill="none" stroke="#9422e4" stroke-width="3.8" stroke-linejoin="round"/>
<polyline points="38.50,395.02 54.00,398.31 101.00,381.88 132.00,387.80 163.50,395.68 206.00,429.19 238.00,419.99" fill="none" stroke="#0c560c" stroke-width="3.8" stroke-linejoin="round"/>
<circle cx="38.50" cy="395.02" r="4.3" fill="#0c560c"/>
<circle cx="54.00" cy="398.31" r="4.3" fill="#0c560c"/>
<circle cx="101.00" cy="381.88" r="4.3" fill="#0c560c"/>
<circle cx="132.00" cy="387.80" r="4.3" fill="#0c560c"/>
<circle cx="163.50" cy="395.68" r="4.3" fill="#0c560c"/>
<circle cx="206.00" cy="429.19" r="4.3" fill="#0c560c"/>
<circle cx="238.00" cy="419.99" r="4.3" fill="#0c560c"/>
<circle cx="38.50" cy="381.88" r="4.1" fill="#9422e4"/>
<circle cx="54.00" cy="393.05" r="4.1" fill="#9422e4"/>
<circle cx="101.00" cy="420.65" r="4.1" fill="#9422e4"/>
<circle cx="132.00" cy="426.56" r="4.1" fill="#9422e4"/>
<circle cx="163.50" cy="423.93" r="4.1" fill="#9422e4"/>
<circle cx="206.00" cy="398.31" r="4.1" fill="#9422e4"/>
<circle cx="238.00" cy="409.48" r="4.1" fill="#9422e4"/>
<text x="101.00" y="354.60" font-size="17" font-weight="bold" text-anchor="middle" fill="#111">*</text>
<text x="132.00" y="356.10" font-size="17" font-weight="bold" text-anchor="middle" fill="#111">*</text>
<text x="206.00" y="461.10" font-size="17" font-weight="bold" text-anchor="middle" fill="#111">*</text>
<text x="238.00" y="454.60" font-size="17" font-weight="bold" text-anchor="middle" fill="#111">*</text>
<line x1="35.00" y1="489.00" x2="46.00" y2="489.00" stroke="#9422e4" stroke-width="3" />
<circle cx="40.50" cy="489.00" r="3" fill="#9422e4"/>
<text x="48.60" y="494.00" font-size="13.80" font-weight="normal" text-anchor="start" fill="#111" stroke="#111" stroke-width="0.5" textLength="29.26" lengthAdjust="spacingAndGlyphs" >n=30</text>
<line x1="35.00" y1="503.75" x2="46.00" y2="503.75" stroke="#0c560c" stroke-width="3" />
<circle cx="40.50" cy="503.75" r="3" fill="#0c560c"/>
<text x="48.60" y="508.75" font-size="13.80" font-weight="normal" text-anchor="start" fill="#111" stroke="#111" stroke-width="0.5" textLength="29.26" lengthAdjust="spacingAndGlyphs" >n=19</text>
<text x="40.00" y="303.00" font-size="15.90" font-weight="bold" text-anchor="start" fill="#111" stroke="#111" stroke-width="0.4" textLength="208.75" lengthAdjust="spacingAndGlyphs" >CD45RO+ PD1+ CXCR5+&#160;&#160;Tfh</text>
<text x="0.00" y="296.90" font-size="26.7" font-weight="normal" text-anchor="start" fill="#111" stroke="#111" stroke-width="0.4" >B</text>
<text transform="translate(12.60,458.60) rotate(-90)" font-size="14.3" font-weight="bold" fill="#111" stroke="#111" stroke-width="0.3" textLength="88.60" lengthAdjust="spacingAndGlyphs">% of total CD4</text>
<text x="288.30" y="515.20" font-size="13.8" font-weight="normal" text-anchor="middle" fill="#111" stroke="#111" stroke-width="0.5" textLength="17.84" lengthAdjust="spacingAndGlyphs" >0.0</text>
<line x1="296.25" y1="510.50" x2="298.75" y2="510.50" stroke="#333" stroke-width="1" />
<text x="288.30" y="473.20" font-size="13.8" font-weight="normal" text-anchor="middle" fill="#111" stroke="#111" stroke-width="0.5" textLength="17.84" lengthAdjust="spacingAndGlyphs" >2.5</text>
<line x1="296.25" y1="468.50" x2="298.75" y2="468.50" stroke="#333" stroke-width="1" />
<text x="288.30" y="431.20" font-size="13.8" font-weight="normal" text-anchor="middle" fill="#111" stroke="#111" stroke-width="0.5" textLength="17.84" lengthAdjust="spacingAndGlyphs" >5.0</text>
<line x1="296.25" y1="426.50" x2="298.75" y2="426.50" stroke="#333" stroke-width="1" />
<text x="288.30" y="389.20" font-size="13.8" font-weight="normal" text-anchor="middle" fill="#111" stroke="#111" stroke-width="0.5" textLength="17.84" lengthAdjust="spacingAndGlyphs" >7.5</text>
<line x1="296.25" y1="384.50" x2="298.75" y2="384.50" stroke="#333" stroke-width="1" />
<text x="288.30" y="347.20" font-size="13.8" font-weight="normal" text-anchor="middle" fill="#111" stroke="#111" stroke-width="0.5" textLength="24.97" lengthAdjust="spacingAndGlyphs" >10.0</text>
<line x1="296.25" y1="342.50" x2="298.75" y2="342.50" stroke="#333" stroke-width="1" />
<text x="311.00" y="532.50" font-size="13.8" font-weight="normal" text-anchor="middle" fill="#111" stroke="#111" stroke-width="0.5" textLength="7.14" lengthAdjust="spacingAndGlyphs" >0</text>
<text x="325.50" y="532.50" font-size="13.8" font-weight="normal" text-anchor="middle" fill="#111" stroke="#111" stroke-width="0.5" textLength="7.14" lengthAdjust="spacingAndGlyphs" >4</text>
<text x="372.00" y="532.50" font-size="13.8" font-weight="normal" text-anchor="middle" fill="#111" stroke="#111" stroke-width="0.5" textLength="14.27" lengthAdjust="spacingAndGlyphs" >16</text>
<text x="401.00" y="532.50" font-size="13.8" font-weight="normal" text-anchor="middle" fill="#111" stroke="#111" stroke-width="0.5" textLength="14.27" lengthAdjust="spacingAndGlyphs" >24</text>
<text x="431.00" y="532.50" font-size="13.8" font-weight="normal" text-anchor="middle" fill="#111" stroke="#111" stroke-width="0.5" textLength="14.27" lengthAdjust="spacingAndGlyphs" >32</text>
<text x="477.50" y="532.50" font-size="13.8" font-weight="normal" text-anchor="middle" fill="#111" stroke="#111" stroke-width="0.5" textLength="14.27" lengthAdjust="spacingAndGlyphs" >44</text>
<text x="509.50" y="532.50" font-size="13.8" font-weight="normal" text-anchor="middle" fill="#111" stroke="#111" stroke-width="0.5" textLength="14.27" lengthAdjust="spacingAndGlyphs" >52</text>
<line x1="298.75" y1="300.00" x2="298.75" y2="522.50" stroke="#000" stroke-width="2" />
<line x1="297.75" y1="521.50" x2="509.50" y2="521.50" stroke="#000" stroke-width="2" />
<text x="404.00" y="545.00" font-size="14.00" font-weight="bold" text-anchor="start" fill="#111" stroke="#111" stroke-width="0.3" textLength="33.50" lengthAdjust="spacingAndGlyphs" >Week</text>
<line x1="418.00" y1="322.50" x2="418.00" y2="521.50" stroke="#000" stroke-width="1.7" />
<line x1="310.75" y1="412.56" x2="310.75" y2="345.02" stroke="#175a17" stroke-width="2.0" />
<line x1="308.15" y1="412.56" x2="313.35" y2="412.56" stroke="#175a17" stroke-width="2" />
<line x1="308.15" y1="345.02" x2="313.35" y2="345.02" stroke="#175a17" stroke-width="2" />
<line x1="326.25" y1="405.00" x2="326.25" y2="333.26" stroke="#175a17" stroke-width="2.0" />
<line x1="323.65" y1="405.00" x2="328.85" y2="405.00" stroke="#175a17" stroke-width="2" />
<line x1="323.65" y1="333.26" x2="328.85" y2="333.26" stroke="#175a17" stroke-width="2" />
<line x1="372.00" y1="399.96" x2="372.00" y2="334.94" stroke="#175a17" stroke-width="2.0" />
<line x1="369.40" y1="399.96" x2="374.60" y2="399.96" stroke="#175a17" stroke-width="2" />
<line x1="369.40" y1="334.94" x2="374.60" y2="334.94" stroke="#175a17" stroke-width="2" />
<line x1="402.50" y1="402.98" x2="402.50" y2="323.01" stroke="#175a17" stroke-width="2.0" />
<line x1="399.90" y1="402.98" x2="405.10" y2="402.98" stroke="#175a17" stroke-width="2" />
<line x1="399.90" y1="323.01" x2="405.10" y2="323.01" stroke="#175a17" stroke-width="2" />
<line x1="433.00" y1="396.26" x2="433.00" y2="325.70" stroke="#175a17" stroke-width="2.0" />
<line x1="430.40" y1="396.26" x2="435.60" y2="396.26" stroke="#175a17" stroke-width="2" />
<line x1="430.40" y1="325.70" x2="435.60" y2="325.70" stroke="#175a17" stroke-width="2" />
<line x1="478.00" y1="409.03" x2="478.00" y2="345.86" stroke="#175a17" stroke-width="2.0" />
<line x1="475.40" y1="409.03" x2="480.60" y2="409.03" stroke="#175a17" stroke-width="2" />
<line x1="475.40" y1="345.86" x2="480.60" y2="345.86" stroke="#175a17" stroke-width="2" />
<line x1="509.25" y1="402.48" x2="509.25" y2="334.10" stroke="#175a17" stroke-width="2.0" />
<line x1="506.65" y1="402.48" x2="511.85" y2="402.48" stroke="#175a17" stroke-width="2" />
<line x1="506.65" y1="334.10" x2="511.85" y2="334.10" stroke="#175a17" stroke-width="2" />
<line x1="310.75" y1="389.04" x2="310.75" y2="349.22" stroke="#902ada" stroke-width="2.0" />
<line x1="308.15" y1="389.04" x2="313.35" y2="389.04" stroke="#902ada" stroke-width="2" />
<line x1="308.15" y1="349.22" x2="313.35" y2="349.22" stroke="#902ada" stroke-width="2" />
<line x1="326.25" y1="377.78" x2="326.25" y2="333.26" stroke="#902ada" stroke-width="2.0" />
<line x1="323.65" y1="377.78" x2="328.85" y2="377.78" stroke="#902ada" stroke-width="2" />
<line x1="323.65" y1="333.26" x2="328.85" y2="333.26" stroke="#902ada" stroke-width="2" />
<line x1="372.00" y1="381.14" x2="372.00" y2="339.98" stroke="#902ada" stroke-width="2.0" />
<line x1="369.40" y1="381.14" x2="374.60" y2="381.14" stroke="#902ada" stroke-width="2" />
<line x1="369.40" y1="339.98" x2="374.60" y2="339.98" stroke="#902ada" stroke-width="2" />
<line x1="402.50" y1="382.82" x2="402.50" y2="344.18" stroke="#902ada" stroke-width="2.0" />
<line x1="399.90" y1="382.82" x2="405.10" y2="382.82" stroke="#902ada" stroke-width="2" />
<line x1="399.90" y1="344.18" x2="405.10" y2="344.18" stroke="#902ada" stroke-width="2" />
<line x1="433.00" y1="377.78" x2="433.00" y2="347.54" stroke="#902ada" stroke-width="2.0" />
<line x1="430.40" y1="377.78" x2="435.60" y2="377.78" stroke="#902ada" stroke-width="2" />
<line x1="430.40" y1="347.54" x2="435.60" y2="347.54" stroke="#902ada" stroke-width="2" />
<line x1="478.00" y1="384.50" x2="478.00" y2="345.86" stroke="#902ada" stroke-width="2.0" />
<line x1="475.40" y1="384.50" x2="480.60" y2="384.50" stroke="#902ada" stroke-width="2" />
<line x1="475.40" y1="345.86" x2="480.60" y2="345.86" stroke="#902ada" stroke-width="2" />
<line x1="509.25" y1="387.86" x2="509.25" y2="345.02" stroke="#902ada" stroke-width="2.0" />
<line x1="506.65" y1="387.86" x2="511.85" y2="387.86" stroke="#902ada" stroke-width="2" />
<line x1="506.65" y1="345.02" x2="511.85" y2="345.02" stroke="#902ada" stroke-width="2" />
<polyline points="310.75,370.05 326.25,354.93 372.00,359.97 402.50,363.50 433.00,360.48 478.00,365.01 509.25,367.53" fill="none" stroke="#9422e4" stroke-width="3.8" stroke-linejoin="round"/>
<polyline points="310.75,378.79 326.25,369.21 372.00,366.19 402.50,363.50 433.00,360.98 478.00,377.44 509.25,368.54" fill="none" stroke="#0c560c" stroke-width="3.8" stroke-linejoin="round"/>
<circle cx="310.75" cy="378.79" r="4.3" fill="#0c560c"/>
<circle cx="326.25" cy="369.21" r="4.3" fill="#0c560c"/>
<circle cx="372.00" cy="366.19" r="4.3" fill="#0c560c"/>
<circle cx="402.50" cy="363.50" r="4.3" fill="#0c560c"/>
<circle cx="433.00" cy="360.98" r="4.3" fill="#0c560c"/>
<circle cx="478.00" cy="377.44" r="4.3" fill="#0c560c"/>
<circle cx="509.25" cy="368.54" r="4.3" fill="#0c560c"/>
<circle cx="310.75" cy="370.05" r="4.1" fill="#9422e4"/>
<circle cx="326.25" cy="354.93" r="4.1" fill="#9422e4"/>
<circle cx="372.00" cy="359.97" r="4.1" fill="#9422e4"/>
<circle cx="402.50" cy="363.50" r="4.1" fill="#9422e4"/>
<circle cx="433.00" cy="360.48" r="4.1" fill="#9422e4"/>
<circle cx="478.00" cy="365.01" r="4.1" fill="#9422e4"/>
<circle cx="509.25" cy="367.53" r="4.1" fill="#9422e4"/>
<line x1="310.00" y1="491.25" x2="321.00" y2="491.25" stroke="#9422e4" stroke-width="3" />
<circle cx="315.50" cy="491.25" r="3" fill="#9422e4"/>
<text x="325.60" y="496.25" font-size="13.80" font-weight="normal" text-anchor="start" fill="#111" stroke="#111" stroke-width="0.5" textLength="29.26" lengthAdjust="spacingAndGlyphs" >n=32</text>
<line x1="310.00" y1="507.00" x2="321.00" y2="507.00" stroke="#0c560c" stroke-width="3" />
<circle cx="315.50" cy="507.00" r="3" fill="#0c560c"/>
<text x="325.60" y="512.00" font-size="13.80" font-weight="normal" text-anchor="start" fill="#111" stroke="#111" stroke-width="0.5" textLength="29.26" lengthAdjust="spacingAndGlyphs" >n=19</text>
<text x="328.75" y="303.00" font-size="15.90" font-weight="bold" text-anchor="start" fill="#111" stroke="#111" stroke-width="0.4" textLength="175.00" lengthAdjust="spacingAndGlyphs" >CD45RO+ PD1- CXCR5+</text>
<text x="272.60" y="297.20" font-size="26.7" font-weight="normal" text-anchor="start" fill="#111" stroke="#111" stroke-width="0.4" >C</text>
<text transform="translate(277.10,457.30) rotate(-90)" font-size="14.3" font-weight="bold" fill="#111" stroke="#111" stroke-width="0.3" textLength="88.50" lengthAdjust="spacingAndGlyphs">% of total CD4</text>
<text x="18.40" y="784.70" font-size="13.8" font-weight="normal" text-anchor="middle" fill="#111" stroke="#111" stroke-width="0.5" textLength="7.14" lengthAdjust="spacingAndGlyphs" >0</text>
<line x1="22.50" y1="780.00" x2="25.00" y2="780.00" stroke="#333" stroke-width="1" />
<text x="18.40" y="735.10" font-size="13.8" font-weight="normal" text-anchor="middle" fill="#111" stroke="#111" stroke-width="0.5" textLength="7.14" lengthAdjust="spacingAndGlyphs" >2</text>
<line x1="22.50" y1="730.40" x2="25.00" y2="730.40" stroke="#333" stroke-width="1" />
<text x="18.40" y="685.50" font-size="13.8" font-weight="normal" text-anchor="middle" fill="#111" stroke="#111" stroke-width="0.5" textLength="7.14" lengthAdjust="spacingAndGlyphs" >4</text>
<line x1="22.50" y1="680.80" x2="25.00" y2="680.80" stroke="#333" stroke-width="1" />
<text x="18.40" y="635.90" font-size="13.8" font-weight="normal" text-anchor="middle" fill="#111" stroke="#111" stroke-width="0.5" textLength="7.14" lengthAdjust="spacingAndGlyphs" >6</text>
<line x1="22.50" y1="631.20" x2="25.00" y2="631.20" stroke="#333" stroke-width="1" />
<text x="18.40" y="586.30" font-size="13.8" font-weight="normal" text-anchor="middle" fill="#111" stroke="#111" stroke-width="0.5" textLength="7.14" lengthAdjust="spacingAndGlyphs" >8</text>
<line x1="22.50" y1="581.60" x2="25.00" y2="581.60" stroke="#333" stroke-width="1" />
<text x="36.80" y="802.50" font-size="13.8" font-weight="normal" text-anchor="middle" fill="#111" stroke="#111" stroke-width="0.5" textLength="7.14" lengthAdjust="spacingAndGlyphs" >0</text>
<text x="51.40" y="802.50" font-size="13.8" font-weight="normal" text-anchor="middle" fill="#111" stroke="#111" stroke-width="0.5" textLength="7.14" lengthAdjust="spacingAndGlyphs" >4</text>
<text x="100.10" y="802.50" font-size="13.8" font-weight="normal" text-anchor="middle" fill="#111" stroke="#111" stroke-width="0.5" textLength="14.27" lengthAdjust="spacingAndGlyphs" >16</text>
<text x="129.80" y="802.50" font-size="13.8" font-weight="normal" text-anchor="middle" fill="#111" stroke="#111" stroke-width="0.5" textLength="14.27" lengthAdjust="spacingAndGlyphs" >24</text>
<text x="160.70" y="802.50" font-size="13.8" font-weight="normal" text-anchor="middle" fill="#111" stroke="#111" stroke-width="0.5" textLength="14.27" lengthAdjust="spacingAndGlyphs" >32</text>
<text x="202.20" y="802.50" font-size="13.8" font-weight="normal" text-anchor="middle" fill="#111" stroke="#111" stroke-width="0.5" textLength="14.27" lengthAdjust="spacingAndGlyphs" >44</text>
<text x="235.60" y="802.50" font-size="13.8" font-weight="normal" text-anchor="middle" fill="#111" stroke="#111" stroke-width="0.5" textLength="14.27" lengthAdjust="spacingAndGlyphs" >52</text>
<line x1="25.00" y1="570.00" x2="25.00" y2="791.50" stroke="#000" stroke-width="2" />
<line x1="24.00" y1="790.50" x2="241.25" y2="790.50" stroke="#000" stroke-width="2" />
<text x="131.00" y="813.80" font-size="14.00" font-weight="bold" text-anchor="start" fill="#111" stroke="#111" stroke-width="0.3" textLength="34.25" lengthAdjust="spacingAndGlyphs" >Week</text>
<line x1="147.00" y1="592.50" x2="147.00" y2="790.50" stroke="#000" stroke-width="1.7" />
<line x1="37.50" y1="673.86" x2="37.50" y2="607.64" stroke="#175a17" stroke-width="2.0" />
<line x1="34.90" y1="673.86" x2="40.10" y2="673.86" stroke="#175a17" stroke-width="2" />
<line x1="34.90" y1="607.64" x2="40.10" y2="607.64" stroke="#175a17" stroke-width="2" />
<line x1="53.00" y1="678.82" x2="53.00" y2="628.72" stroke="#175a17" stroke-width="2.0" />
<line x1="50.40" y1="678.82" x2="55.60" y2="678.82" stroke="#175a17" stroke-width="2" />
<line x1="50.40" y1="628.72" x2="55.60" y2="628.72" stroke="#175a17" stroke-width="2" />
<line x1="100.50" y1="682.04" x2="100.50" y2="594.00" stroke="#175a17" stroke-width="2.0" />
<line x1="97.90" y1="682.04" x2="103.10" y2="682.04" stroke="#175a17" stroke-width="2" />
<line x1="97.90" y1="594.00" x2="103.10" y2="594.00" stroke="#175a17" stroke-width="2" />
<line x1="131.25" y1="687.50" x2="131.25" y2="618.80" stroke="#175a17" stroke-width="2.0" />
<line x1="128.65" y1="687.50" x2="133.85" y2="687.50" stroke="#175a17" stroke-width="2" />
<line x1="128.65" y1="618.80" x2="133.85" y2="618.80" stroke="#175a17" stroke-width="2" />
<line x1="162.50" y1="694.94" x2="162.50" y2="605.90" stroke="#175a17" stroke-width="2.0" />
<line x1="159.90" y1="694.94" x2="165.10" y2="694.94" stroke="#175a17" stroke-width="2" />
<line x1="159.90" y1="605.90" x2="165.10" y2="605.90" stroke="#175a17" stroke-width="2" />
<line x1="205.50" y1="693.70" x2="205.50" y2="612.60" stroke="#175a17" stroke-width="2.0" />
<line x1="202.90" y1="693.70" x2="208.10" y2="693.70" stroke="#175a17" stroke-width="2" />
<line x1="202.90" y1="612.60" x2="208.10" y2="612.60" stroke="#175a17" stroke-width="2" />
<line x1="236.75" y1="699.90" x2="236.75" y2="610.12" stroke="#175a17" stroke-width="2.0" />
<line x1="234.15" y1="699.90" x2="239.35" y2="699.90" stroke="#175a17" stroke-width="2" />
<line x1="234.15" y1="610.12" x2="239.35" y2="610.12" stroke="#175a17" stroke-width="2" />
<line x1="37.50" y1="646.08" x2="37.50" y2="592.51" stroke="#902ada" stroke-width="2.0" />
<line x1="34.90" y1="646.08" x2="40.10" y2="646.08" stroke="#902ada" stroke-width="2" />
<line x1="34.90" y1="592.51" x2="40.10" y2="592.51" stroke="#902ada" stroke-width="2" />
<line x1="53.00" y1="658.48" x2="53.00" y2="606.40" stroke="#902ada" stroke-width="2.0" />
<line x1="50.40" y1="658.48" x2="55.60" y2="658.48" stroke="#902ada" stroke-width="2" />
<line x1="50.40" y1="606.40" x2="55.60" y2="606.40" stroke="#902ada" stroke-width="2" />
<line x1="100.50" y1="665.92" x2="100.50" y2="613.84" stroke="#902ada" stroke-width="2.0" />
<line x1="97.90" y1="665.92" x2="103.10" y2="665.92" stroke="#902ada" stroke-width="2" />
<line x1="97.90" y1="613.84" x2="103.10" y2="613.84" stroke="#902ada" stroke-width="2" />
<line x1="131.25" y1="678.32" x2="131.25" y2="626.24" stroke="#902ada" stroke-width="2.0" />
<line x1="128.65" y1="678.32" x2="133.85" y2="678.32" stroke="#902ada" stroke-width="2" />
<line x1="128.65" y1="626.24" x2="133.85" y2="626.24" stroke="#902ada" stroke-width="2" />
<line x1="162.50" y1="673.36" x2="162.50" y2="621.28" stroke="#902ada" stroke-width="2.0" />
<line x1="159.90" y1="673.36" x2="165.10" y2="673.36" stroke="#902ada" stroke-width="2" />
<line x1="159.90" y1="621.28" x2="165.10" y2="621.28" stroke="#902ada" stroke-width="2" />
<line x1="205.50" y1="658.48" x2="205.50" y2="594.00" stroke="#902ada" stroke-width="2.0" />
<line x1="202.90" y1="658.48" x2="208.10" y2="658.48" stroke="#902ada" stroke-width="2" />
<line x1="202.90" y1="594.00" x2="208.10" y2="594.00" stroke="#902ada" stroke-width="2" />
<line x1="236.75" y1="670.88" x2="236.75" y2="606.40" stroke="#902ada" stroke-width="2.0" />
<line x1="234.15" y1="670.88" x2="239.35" y2="670.88" stroke="#902ada" stroke-width="2" />
<line x1="234.15" y1="606.40" x2="239.35" y2="606.40" stroke="#902ada" stroke-width="2" />
<polyline points="37.50,616.82 53.00,630.70 100.50,639.88 131.25,652.03 162.50,646.33 205.50,625.74 236.75,637.90" fill="none" stroke="#9422e4" stroke-width="3.8" stroke-linejoin="round"/>
<polyline points="37.50,639.88 53.00,653.52 100.50,638.64 131.25,652.53 162.50,650.05 205.50,653.02 236.75,655.01" fill="none" stroke="#0c560c" stroke-width="3.8" stroke-linejoin="round"/>
<circle cx="37.50" cy="639.88" r="4.3" fill="#0c560c"/>
<circle cx="53.00" cy="653.52" r="4.3" fill="#0c560c"/>
<circle cx="100.50" cy="638.64" r="4.3" fill="#0c560c"/>
<circle cx="131.25" cy="652.53" r="4.3" fill="#0c560c"/>
<circle cx="162.50" cy="650.05" r="4.3" fill="#0c560c"/>
<circle cx="205.50" cy="653.02" r="4.3" fill="#0c560c"/>
<circle cx="236.75" cy="655.01" r="4.3" fill="#0c560c"/>
<circle cx="37.50" cy="616.82" r="4.1" fill="#9422e4"/>
<circle cx="53.00" cy="630.70" r="4.1" fill="#9422e4"/>
<circle cx="100.50" cy="639.88" r="4.1" fill="#9422e4"/>
<circle cx="131.25" cy="652.03" r="4.1" fill="#9422e4"/>
<circle cx="162.50" cy="646.33" r="4.1" fill="#9422e4"/>
<circle cx="205.50" cy="625.74" r="4.1" fill="#9422e4"/>
<circle cx="236.75" cy="637.90" r="4.1" fill="#9422e4"/>
<line x1="37.00" y1="759.50" x2="48.75" y2="759.50" stroke="#9422e4" stroke-width="3" />
<circle cx="42.88" cy="759.50" r="3" fill="#9422e4"/>
<text x="51.60" y="764.50" font-size="13.80" font-weight="normal" text-anchor="start" fill="#111" stroke="#111" stroke-width="0.5" textLength="29.26" lengthAdjust="spacingAndGlyphs" >n=32</text>
<line x1="37.00" y1="774.50" x2="48.75" y2="774.50" stroke="#0c560c" stroke-width="3" />
<circle cx="42.88" cy="774.50" r="3" fill="#0c560c"/>
<text x="51.60" y="779.50" font-size="13.80" font-weight="normal" text-anchor="start" fill="#111" stroke="#111" stroke-width="0.5" textLength="29.26" lengthAdjust="spacingAndGlyphs" >n=19</text>
<text x="40.00" y="570.00" font-size="15.90" font-weight="bold" text-anchor="start" fill="#111" stroke="#111" stroke-width="0.4" textLength="207.00" lengthAdjust="spacingAndGlyphs" >CD45RO+ PD1+ CXCR5- Tph</text>
<text x="-1.10" y="567.70" font-size="26.7" font-weight="normal" text-anchor="start" fill="#111" stroke="#111" stroke-width="0.4" >D</text>
<text transform="translate(12.20,720.30) rotate(-90)" font-size="14.3" font-weight="bold" fill="#111" stroke="#111" stroke-width="0.3" textLength="89.10" lengthAdjust="spacingAndGlyphs">% of total CD4</text>
<text x="293.80" y="787.70" font-size="13.8" font-weight="normal" text-anchor="middle" fill="#111" stroke="#111" stroke-width="0.5" textLength="17.84" lengthAdjust="spacingAndGlyphs" >0.0</text>
<line x1="302.50" y1="783.00" x2="305.00" y2="783.00" stroke="#333" stroke-width="1" />
<text x="293.80" y="738.32" font-size="13.8" font-weight="normal" text-anchor="middle" fill="#111" stroke="#111" stroke-width="0.5" textLength="17.84" lengthAdjust="spacingAndGlyphs" >0.2</text>
<line x1="302.50" y1="733.62" x2="305.00" y2="733.62" stroke="#333" stroke-width="1" />
<text x="293.80" y="688.94" font-size="13.8" font-weight="normal" text-anchor="middle" fill="#111" stroke="#111" stroke-width="0.5" textLength="17.84" lengthAdjust="spacingAndGlyphs" >0.4</text>
<line x1="302.50" y1="684.24" x2="305.00" y2="684.24" stroke="#333" stroke-width="1" />
<text x="293.80" y="639.56" font-size="13.8" font-weight="normal" text-anchor="middle" fill="#111" stroke="#111" stroke-width="0.5" textLength="17.84" lengthAdjust="spacingAndGlyphs" >0.6</text>
<line x1="302.50" y1="634.86" x2="305.00" y2="634.86" stroke="#333" stroke-width="1" />
<text x="293.80" y="590.18" font-size="13.8" font-weight="normal" text-anchor="middle" fill="#111" stroke="#111" stroke-width="0.5" textLength="17.84" lengthAdjust="spacingAndGlyphs" >0.8</text>
<line x1="302.50" y1="585.48" x2="305.00" y2="585.48" stroke="#333" stroke-width="1" />
<text x="319.00" y="805.00" font-size="13.8" font-weight="normal" text-anchor="middle" fill="#111" stroke="#111" stroke-width="0.5" textLength="7.14" lengthAdjust="spacingAndGlyphs" >0</text>
<text x="350.30" y="805.00" font-size="13.8" font-weight="normal" text-anchor="middle" fill="#111" stroke="#111" stroke-width="0.5" textLength="7.14" lengthAdjust="spacingAndGlyphs" >4</text>
<text x="511.80" y="805.00" font-size="13.8" font-weight="normal" text-anchor="middle" fill="#111" stroke="#111" stroke-width="0.5" textLength="14.27" lengthAdjust="spacingAndGlyphs" >24</text>
<line x1="305.00" y1="575.00" x2="305.00" y2="792.75" stroke="#000" stroke-width="2" />
<line x1="304.00" y1="791.75" x2="512.50" y2="791.75" stroke="#000" stroke-width="2" />
<text x="410.00" y="816.00" font-size="14.00" font-weight="bold" text-anchor="start" fill="#111" stroke="#111" stroke-width="0.3" textLength="36.00" lengthAdjust="spacingAndGlyphs" >Week</text>
<line x1="318.50" y1="750.41" x2="318.50" y2="659.55" stroke="#175a17" stroke-width="2.0" />
<line x1="315.90" y1="750.41" x2="321.10" y2="750.41" stroke="#175a17" stroke-width="2" />
<line x1="315.90" y1="659.55" x2="321.10" y2="659.55" stroke="#175a17" stroke-width="2" />
<line x1="351.25" y1="748.68" x2="351.25" y2="691.15" stroke="#175a17" stroke-width="2.0" />
<line x1="348.65" y1="748.68" x2="353.85" y2="748.68" stroke="#175a17" stroke-width="2" />
<line x1="348.65" y1="691.15" x2="353.85" y2="691.15" stroke="#175a17" stroke-width="2" />
<line x1="512.50" y1="778.31" x2="512.50" y2="618.32" stroke="#175a17" stroke-width="2.0" />
<line x1="509.90" y1="778.31" x2="515.10" y2="778.31" stroke="#175a17" stroke-width="2" />
<line x1="509.90" y1="618.32" x2="515.10" y2="618.32" stroke="#175a17" stroke-width="2" />
<line x1="318.50" y1="732.63" x2="318.50" y2="662.51" stroke="#902ada" stroke-width="2.0" />
<line x1="315.90" y1="732.63" x2="321.10" y2="732.63" stroke="#902ada" stroke-width="2" />
<line x1="315.90" y1="662.51" x2="321.10" y2="662.51" stroke="#902ada" stroke-width="2" />
<line x1="351.25" y1="759.30" x2="351.25" y2="723.25" stroke="#902ada" stroke-width="2.0" />
<line x1="348.65" y1="759.30" x2="353.85" y2="759.30" stroke="#902ada" stroke-width="2" />
<line x1="348.65" y1="723.25" x2="353.85" y2="723.25" stroke="#902ada" stroke-width="2" />
<line x1="512.50" y1="758.31" x2="512.50" y2="726.95" stroke="#902ada" stroke-width="2.0" />
<line x1="509.90" y1="758.31" x2="515.10" y2="758.31" stroke="#902ada" stroke-width="2" />
<line x1="509.90" y1="726.95" x2="515.10" y2="726.95" stroke="#902ada" stroke-width="2" />
<polyline points="318.50,697.57 351.25,741.27 512.50,742.51" fill="none" stroke="#9422e4" stroke-width="3.0" stroke-linejoin="round"/>
<polyline points="318.50,704.98 351.25,720.04 512.50,698.07" fill="none" stroke="#0c560c" stroke-width="3.8" stroke-linejoin="round"/>
<circle cx="318.50" cy="704.98" r="4.3" fill="#0c560c"/>
<circle cx="351.25" cy="720.04" r="4.3" fill="#0c560c"/>
<circle cx="512.50" cy="698.07" r="4.3" fill="#0c560c"/>
<circle cx="318.50" cy="697.57" r="4.1" fill="#9422e4"/>
<circle cx="351.25" cy="741.27" r="4.1" fill="#9422e4"/>
<circle cx="512.50" cy="742.51" r="4.1" fill="#9422e4"/>
<text x="351.25" y="776.60" font-size="17" font-weight="bold" text-anchor="middle" fill="#111">*</text>
<text x="512.50" y="794.60" font-size="17" font-weight="bold" text-anchor="middle" fill="#111">*</text>
<line x1="439.50" y1="590.00" x2="451.25" y2="590.00" stroke="#9422e4" stroke-width="3" />
<circle cx="445.38" cy="590.00" r="3" fill="#9422e4"/>
<text x="454.35" y="595.00" font-size="13.80" font-weight="normal" text-anchor="start" fill="#111" stroke="#111" stroke-width="0.5" textLength="29.26" lengthAdjust="spacingAndGlyphs" >n=13</text>
<line x1="439.50" y1="605.00" x2="451.25" y2="605.00" stroke="#0c560c" stroke-width="3" />
<circle cx="445.38" cy="605.00" r="3" fill="#0c560c"/>
<text x="454.35" y="610.00" font-size="13.80" font-weight="normal" text-anchor="start" fill="#111" stroke="#111" stroke-width="0.5" textLength="21.94" lengthAdjust="spacingAndGlyphs" >n=6</text>
<text x="370.00" y="570.50" font-size="15.90" font-weight="bold" text-anchor="start" fill="#111" stroke="#111" stroke-width="0.4" textLength="96.25" lengthAdjust="spacingAndGlyphs" >Plasmablasts</text>
<text x="270.10" y="567.70" font-size="26.7" font-weight="normal" text-anchor="start" fill="#111" stroke="#111" stroke-width="0.4" >E</text>
<text transform="translate(278.10,729.60) rotate(-90)" font-size="14.3" font-weight="bold" fill="#111" stroke="#111" stroke-width="0.3" textLength="95.00" lengthAdjust="spacingAndGlyphs">% of total CD19</text>
<text x="19.00" y="1066.20" font-size="13.8" font-weight="normal" text-anchor="middle" fill="#111" stroke="#111" stroke-width="0.5" textLength="17.84" lengthAdjust="spacingAndGlyphs" >0.0</text>
<line x1="32.50" y1="1061.50" x2="35.00" y2="1061.50" stroke="#333" stroke-width="1" />
<text x="24.00" y="999.30" font-size="13.8" font-weight="normal" text-anchor="middle" fill="#111" stroke="#111" stroke-width="0.5" textLength="17.84" lengthAdjust="spacingAndGlyphs" >0.5</text>
<line x1="32.50" y1="994.60" x2="35.00" y2="994.60" stroke="#333" stroke-width="1" />
<text x="24.00" y="932.40" font-size="13.8" font-weight="normal" text-anchor="middle" fill="#111" stroke="#111" stroke-width="0.5" textLength="17.84" lengthAdjust="spacingAndGlyphs" >1.0</text>
<line x1="32.50" y1="927.70" x2="35.00" y2="927.70" stroke="#333" stroke-width="1" />
<text x="24.00" y="865.50" font-size="13.8" font-weight="normal" text-anchor="middle" fill="#111" stroke="#111" stroke-width="0.5" textLength="17.84" lengthAdjust="spacingAndGlyphs" >1.5</text>
<line x1="32.50" y1="860.80" x2="35.00" y2="860.80" stroke="#333" stroke-width="1" />
<text x="46.75" y="1080.30" font-size="13.8" font-weight="normal" text-anchor="middle" fill="#111" stroke="#111" stroke-width="0.5" textLength="7.14" lengthAdjust="spacingAndGlyphs" >0</text>
<text x="61.00" y="1080.30" font-size="13.8" font-weight="normal" text-anchor="middle" fill="#111" stroke="#111" stroke-width="0.5" textLength="7.14" lengthAdjust="spacingAndGlyphs" >4</text>
<text x="108.75" y="1080.30" font-size="13.8" font-weight="normal" text-anchor="middle" fill="#111" stroke="#111" stroke-width="0.5" textLength="14.27" lengthAdjust="spacingAndGlyphs" >16</text>
<text x="138.50" y="1080.30" font-size="13.8" font-weight="normal" text-anchor="middle" fill="#111" stroke="#111" stroke-width="0.5" textLength="14.27" lengthAdjust="spacingAndGlyphs" >24</text>
<text x="169.50" y="1080.30" font-size="13.8" font-weight="normal" text-anchor="middle" fill="#111" stroke="#111" stroke-width="0.5" textLength="14.27" lengthAdjust="spacingAndGlyphs" >32</text>
<text x="211.30" y="1080.30" font-size="13.8" font-weight="normal" text-anchor="middle" fill="#111" stroke="#111" stroke-width="0.5" textLength="14.27" lengthAdjust="spacingAndGlyphs" >44</text>
<text x="244.60" y="1080.30" font-size="13.8" font-weight="normal" text-anchor="middle" fill="#111" stroke="#111" stroke-width="0.5" textLength="14.27" lengthAdjust="spacingAndGlyphs" >52</text>
<line x1="35.00" y1="851.25" x2="35.00" y2="1069.50" stroke="#000" stroke-width="2" />
<line x1="34.00" y1="1068.50" x2="247.00" y2="1068.50" stroke="#000" stroke-width="2" />
<text x="134.00" y="1092.20" font-size="14.00" font-weight="bold" text-anchor="start" fill="#111" stroke="#111" stroke-width="0.3" textLength="35.50" lengthAdjust="spacingAndGlyphs" >Week</text>
<line x1="153.75" y1="873.75" x2="153.75" y2="1068.50" stroke="#000" stroke-width="1.7" />
<line x1="46.75" y1="997.28" x2="46.75" y2="927.70" stroke="#175a17" stroke-width="2.0" />
<line x1="44.15" y1="997.28" x2="49.35" y2="997.28" stroke="#175a17" stroke-width="2" />
<line x1="44.15" y1="927.70" x2="49.35" y2="927.70" stroke="#175a17" stroke-width="2" />
<line x1="62.50" y1="992.73" x2="62.50" y2="929.84" stroke="#175a17" stroke-width="2.0" />
<line x1="59.90" y1="992.73" x2="65.10" y2="992.73" stroke="#175a17" stroke-width="2" />
<line x1="59.90" y1="929.84" x2="65.10" y2="929.84" stroke="#175a17" stroke-width="2" />
<line x1="108.00" y1="977.21" x2="108.00" y2="882.21" stroke="#175a17" stroke-width="2.0" />
<line x1="105.40" y1="977.21" x2="110.60" y2="977.21" stroke="#175a17" stroke-width="2" />
<line x1="105.40" y1="882.21" x2="110.60" y2="882.21" stroke="#175a17" stroke-width="2" />
<line x1="138.75" y1="1000.62" x2="138.75" y2="927.03" stroke="#175a17" stroke-width="2.0" />
<line x1="136.15" y1="1000.62" x2="141.35" y2="1000.62" stroke="#175a17" stroke-width="2" />
<line x1="136.15" y1="927.03" x2="141.35" y2="927.03" stroke="#175a17" stroke-width="2" />
<line x1="168.75" y1="1010.39" x2="168.75" y2="939.61" stroke="#175a17" stroke-width="2.0" />
<line x1="166.15" y1="1010.39" x2="171.35" y2="1010.39" stroke="#175a17" stroke-width="2" />
<line x1="166.15" y1="939.61" x2="171.35" y2="939.61" stroke="#175a17" stroke-width="2" />
<line x1="210.50" y1="1003.70" x2="210.50" y2="898.53" stroke="#175a17" stroke-width="2.0" />
<line x1="207.90" y1="1003.70" x2="213.10" y2="1003.70" stroke="#175a17" stroke-width="2" />
<line x1="207.90" y1="898.53" x2="213.10" y2="898.53" stroke="#175a17" stroke-width="2" />
<line x1="241.25" y1="1018.28" x2="241.25" y2="972.79" stroke="#175a17" stroke-width="2.0" />
<line x1="238.65" y1="1018.28" x2="243.85" y2="1018.28" stroke="#175a17" stroke-width="2" />
<line x1="238.65" y1="972.79" x2="243.85" y2="972.79" stroke="#175a17" stroke-width="2" />
<line x1="46.75" y1="1002.63" x2="46.75" y2="923.95" stroke="#902ada" stroke-width="2.0" />
<line x1="44.15" y1="1002.63" x2="49.35" y2="1002.63" stroke="#902ada" stroke-width="2" />
<line x1="44.15" y1="923.95" x2="49.35" y2="923.95" stroke="#902ada" stroke-width="2" />
<line x1="62.50" y1="1031.53" x2="62.50" y2="994.60" stroke="#902ada" stroke-width="2.0" />
<line x1="59.90" y1="1031.53" x2="65.10" y2="1031.53" stroke="#902ada" stroke-width="2" />
<line x1="59.90" y1="994.60" x2="65.10" y2="994.60" stroke="#902ada" stroke-width="2" />
<line x1="108.00" y1="1018.01" x2="108.00" y2="955.00" stroke="#902ada" stroke-width="2.0" />
<line x1="105.40" y1="1018.01" x2="110.60" y2="1018.01" stroke="#902ada" stroke-width="2" />
<line x1="105.40" y1="955.00" x2="110.60" y2="955.00" stroke="#902ada" stroke-width="2" />
<line x1="138.75" y1="1029.39" x2="138.75" y2="997.28" stroke="#902ada" stroke-width="2.0" />
<line x1="136.15" y1="1029.39" x2="141.35" y2="1029.39" stroke="#902ada" stroke-width="2" />
<line x1="136.15" y1="997.28" x2="141.35" y2="997.28" stroke="#902ada" stroke-width="2" />
<line x1="168.75" y1="1009.32" x2="168.75" y2="978.54" stroke="#902ada" stroke-width="2.0" />
<line x1="166.15" y1="1009.32" x2="171.35" y2="1009.32" stroke="#902ada" stroke-width="2" />
<line x1="166.15" y1="978.54" x2="171.35" y2="978.54" stroke="#902ada" stroke-width="2" />
<line x1="210.50" y1="970.52" x2="210.50" y2="905.62" stroke="#902ada" stroke-width="2.0" />
<line x1="207.90" y1="970.52" x2="213.10" y2="970.52" stroke="#902ada" stroke-width="2" />
<line x1="207.90" y1="905.62" x2="213.10" y2="905.62" stroke="#902ada" stroke-width="2" />
<line x1="241.25" y1="979.35" x2="241.25" y2="894.52" stroke="#902ada" stroke-width="2.0" />
<line x1="238.65" y1="979.35" x2="243.85" y2="979.35" stroke="#902ada" stroke-width="2" />
<line x1="238.65" y1="894.52" x2="243.85" y2="894.52" stroke="#902ada" stroke-width="2" />
<polyline points="46.75,963.02 62.50,1013.06 108.00,987.51 138.75,1014.54 168.75,992.99 210.50,938.81 241.25,938.00" fill="none" stroke="#9422e4" stroke-width="3.8" stroke-linejoin="round"/>
<polyline points="46.75,960.08 62.50,967.04 108.00,929.97 138.75,963.02 168.75,974.26 210.50,951.25 241.25,995.54" fill="none" stroke="#0c560c" stroke-width="3.8" stroke-linejoin="round"/>
<circle cx="46.75" cy="960.08" r="4.3" fill="#0c560c"/>
<circle cx="62.50" cy="967.04" r="4.3" fill="#0c560c"/>
<circle cx="108.00" cy="929.97" r="4.3" fill="#0c560c"/>
<circle cx="138.75" cy="963.02" r="4.3" fill="#0c560c"/>
<circle cx="168.75" cy="974.26" r="4.3" fill="#0c560c"/>
<circle cx="210.50" cy="951.25" r="4.3" fill="#0c560c"/>
<circle cx="241.25" cy="995.54" r="4.3" fill="#0c560c"/>
<circle cx="46.75" cy="963.02" r="4.1" fill="#9422e4"/>
<circle cx="62.50" cy="1013.06" r="4.1" fill="#9422e4"/>
<circle cx="108.00" cy="987.51" r="4.1" fill="#9422e4"/>
<circle cx="138.75" cy="1014.54" r="4.1" fill="#9422e4"/>
<circle cx="168.75" cy="992.99" r="4.1" fill="#9422e4"/>
<circle cx="210.50" cy="938.81" r="4.1" fill="#9422e4"/>
<circle cx="241.25" cy="938.00" r="4.1" fill="#9422e4"/>
<text x="62.50" y="930.60" font-size="17" font-weight="bold" text-anchor="middle" fill="#111">*</text>
<text x="108.00" y="880.60" font-size="17" font-weight="bold" text-anchor="middle" fill="#111">*</text>
<text x="138.75" y="924.60" font-size="17" font-weight="bold" text-anchor="middle" fill="#111">*</text>
<text x="241.25" y="1035.60" font-size="17" font-weight="bold" text-anchor="middle" fill="#111">*</text>
<line x1="42.00" y1="1045.00" x2="53.25" y2="1045.00" stroke="#9422e4" stroke-width="3" />
<circle cx="47.62" cy="1045.00" r="3" fill="#9422e4"/>
<text x="56.10" y="1050.00" font-size="13.80" font-weight="normal" text-anchor="start" fill="#111" stroke="#111" stroke-width="0.5" textLength="29.26" lengthAdjust="spacingAndGlyphs" >n=30</text>
<line x1="42.00" y1="1059.50" x2="53.25" y2="1059.50" stroke="#0c560c" stroke-width="3" />
<circle cx="47.62" cy="1059.50" r="3" fill="#0c560c"/>
<text x="56.10" y="1064.50" font-size="13.80" font-weight="normal" text-anchor="start" fill="#111" stroke="#111" stroke-width="0.5" textLength="29.26" lengthAdjust="spacingAndGlyphs" >n=18</text>
<text x="13.75" y="849.00" font-size="15.90" font-weight="bold" text-anchor="start" fill="#111" stroke="#111" stroke-width="0.4" textLength="263.25" lengthAdjust="spacingAndGlyphs" >CD127-Foxp3+CD45RO+CXCR5+ Tfr</text>
<text x="0.90" y="830.30" font-size="26.7" font-weight="normal" text-anchor="start" fill="#111" stroke="#111" stroke-width="0.4" >F</text>
<text transform="translate(11.60,1002.80) rotate(-90)" font-size="14.3" font-weight="bold" fill="#111" stroke="#111" stroke-width="0.3" textLength="88.40" lengthAdjust="spacingAndGlyphs">% of total CD4</text>
<line x1="312.70" y1="866.00" x2="328.50" y2="866.00" stroke="#9422e4" stroke-width="4.2" />
<circle cx="320.6" cy="866" r="3.8" fill="#9422e4"/>
<text x="332.70" y="871.80" font-size="15.40" font-weight="normal" text-anchor="start" fill="#111" stroke="#111" stroke-width="0.45" textLength="63.55" lengthAdjust="spacingAndGlyphs" >ABA&#8722;&gt;PL</text>
<line x1="409.20" y1="866.00" x2="425.00" y2="866.00" stroke="#0c560c" stroke-width="4.2" />
<circle cx="417.1" cy="866" r="3.8" fill="#0c560c"/>
<text x="429.00" y="871.80" font-size="15.30" font-weight="normal" text-anchor="start" fill="#111" stroke="#111" stroke-width="0.45" textLength="70.70" lengthAdjust="spacingAndGlyphs" >PL &#8722;&gt; ABA</text>
</svg></body></html>
